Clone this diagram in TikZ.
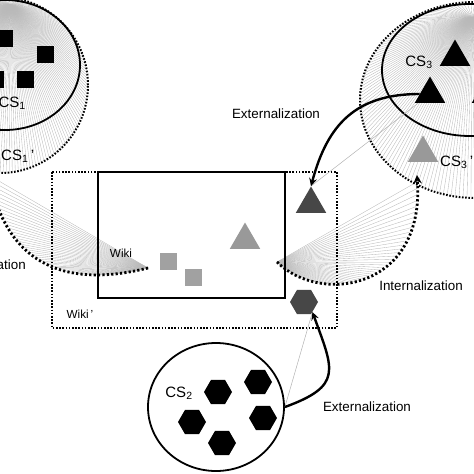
\documentclass[tikz,border=0pt]{standalone}
\usepackage{fontspec}
\setmainfont{Liberation Sans}
\usetikzlibrary{shapes.geometric,calc}

\begin{document}
\begin{tikzpicture}[x=1pt,y=-1pt,
    ray/.style={draw=gray!55,line width=0.35pt,solid,-},
    csline/.style={draw,ellipse,line width=1.8pt,inner sep=0pt},
    csdots/.style={draw,ellipse,line width=2pt,inner sep=0pt,dash pattern=on 1.6pt off 1.6pt},
    fan/.style={line width=2.8pt,dash pattern=on 2.2pt off 2.2pt,-stealth},
    link/.style={draw=gray!60,line width=0.5pt},
    push/.style={line width=2.4pt,-stealth},
    sq/.style={rectangle,minimum size=17pt,inner sep=0pt},
    tri/.style={regular polygon,regular polygon sides=3,minimum size=35pt,inner sep=0pt},
    hexa/.style={regular polygon,regular polygon sides=6,minimum size=28pt,inner sep=0pt},
    lbl/.style={inner sep=0pt,font=\fontsize{13.4}{15}\selectfont},
    cslbl/.style={inner sep=0pt,font=\fontsize{15}{17}\selectfont}]

    \useasboundingbox (0,0) rectangle (474,474);
    \clip (0,0) rectangle (474,474);

    \coordinate (top1) at (10,5);%vertice CS1'
    \coordinate (top3) at (472,18);%vertice CS3'
    \coordinate (c1p) at (0,85);
    \coordinate (c3p) at (475,100);
    \coordinate (wikiL) at (148,268);
    \coordinate (wikiR) at (277,262);

    %Rayos
    \foreach \a in {0,2,...,358}{
        \draw[ray] (top1)--($(c1p)+(\a:88 and 88)$);
        \draw[ray] (top3)--($(c3p)+(\a:115 and 98)$);
    }
    \foreach \t [evaluate=\t as \s using 1-\t] in {0,0.02,...,1}{
        \pgfmathsetmacro{\bx}{\s^3*148+3*\s^2*\t*60+3*\s*\t^2*5+\t^3*(-12)}
        \pgfmathsetmacro{\by}{\s^3*268+3*\s^2*\t*290+3*\s*\t^2*260+\t^3*170}
        \pgfmathsetmacro{\cx}{\s^3*277+3*\s^2*\t*320+3*\s*\t^2*425+\t^3*417}
        \pgfmathsetmacro{\cy}{\s^3*262+3*\s^2*\t*305+3*\s*\t^2*290+\t^3*175}
        \draw[ray] (wikiL)--(\bx,\by);
        \draw[ray] (wikiR)--(\cx,\cy);
    }

    %Circulos
    \node[csdots,minimum width=176pt,minimum height=176pt] (cs1p) at (c1p) {};
    \node[csline,minimum width=150pt,minimum height=130pt] (cs1) at (5,65) {};
    \node[csdots,minimum width=230pt,minimum height=196pt] (cs3p) at (c3p) {};
    \node[csline,minimum width=176pt,minimum height=132pt] (cs3) at (470,70) {};
    \node[csline,minimum width=136pt,minimum height=128pt] (cs2) at (216,407) {};

    %Wiki
    \draw[line width=1.8pt,dash pattern=on 1.6pt off 1.6pt] (52,172) rectangle (337,328);
    \draw[line width=1.8pt] (98,172) rectangle (285,298);

    %Abanicos
    \draw[fan] (wikiL) .. controls (60,290) and (5,260) .. (-12,170);
    \draw[fan] (wikiR) .. controls (320,305) and (425,290) .. (417,175);

    %Figuras
    \foreach \p [count=\i] in {(4,38),(45,54),(-5,79),(25,79)}
        \node[sq,fill=black] (sqa\i) at \p {};
    \node[sq,fill=black!37] (sqw1) at (168,261) {};
    \node[sq,fill=black!37] (sqw2) at (193,277) {};
    \node[tri,fill=black!40] (triw) at (245,240) {};
    \node[tri,fill=black!72] (wtri) at (311,204) {};
    \node[hexa,fill=black!72] (whex) at (304,302) {};
    \node[tri,fill=black] (tri31) at (455,57) {};
    \node[tri,fill=black] (tri32) at (430,94) {};
    \node[tri,fill=black] (tri33) at (487,94) {};
    \node[tri,fill=black!40] (tri3p) at (423,153) {};
    \foreach \p [count=\i] in {(218,392),(258,382),(192,422),(263,418),(222,443)}
        \node[hexa,fill=black] (hex\i) at \p {};

    %Flechas
    \draw[link] (tri32)--(wtri.corner 1);
    \draw[push] (tri32.west) to[out=180,in=75,looseness=1.15] (wtri.corner 1);
    \draw[link] (cs2.east)--(whex.-50);
    \draw[push] (cs2.east) to[out=20,in=-70,looseness=1.6] (whex.-50);

    %Etiquetas
    \node[cslbl,anchor=east] (l1) at (26,103) {CS\textsubscript{1}};
    \node[cslbl,anchor=west] (l1p) at (1,156) {CS\textsubscript{1}\,'};
    \node[cslbl] (l3) at (419,62) {CS\textsubscript{3}};
    \node[cslbl,anchor=west] (l3p) at (440,162) {CS\textsubscript{3}\,'};
    \node[cslbl] (l2) at (179,393) {CS\textsubscript{2}};
    \node[lbl,font=\fontsize{11.7}{13}\selectfont] (lw) at (121,253) {Wiki};
    \node[lbl,font=\fontsize{11.7}{13}\selectfont] (lwp) at (80,314) {Wiki\,'};
    \node[lbl] (ext3) at (276,114) {Externalization};
    \node[lbl] (int3) at (421,286) {Internalization};
    \node[lbl] (ext2) at (367,407) {Externalization};
    \node[lbl,anchor=east] (int1) at (26,265) {Internalization};

\end{tikzpicture}
\end{document}
